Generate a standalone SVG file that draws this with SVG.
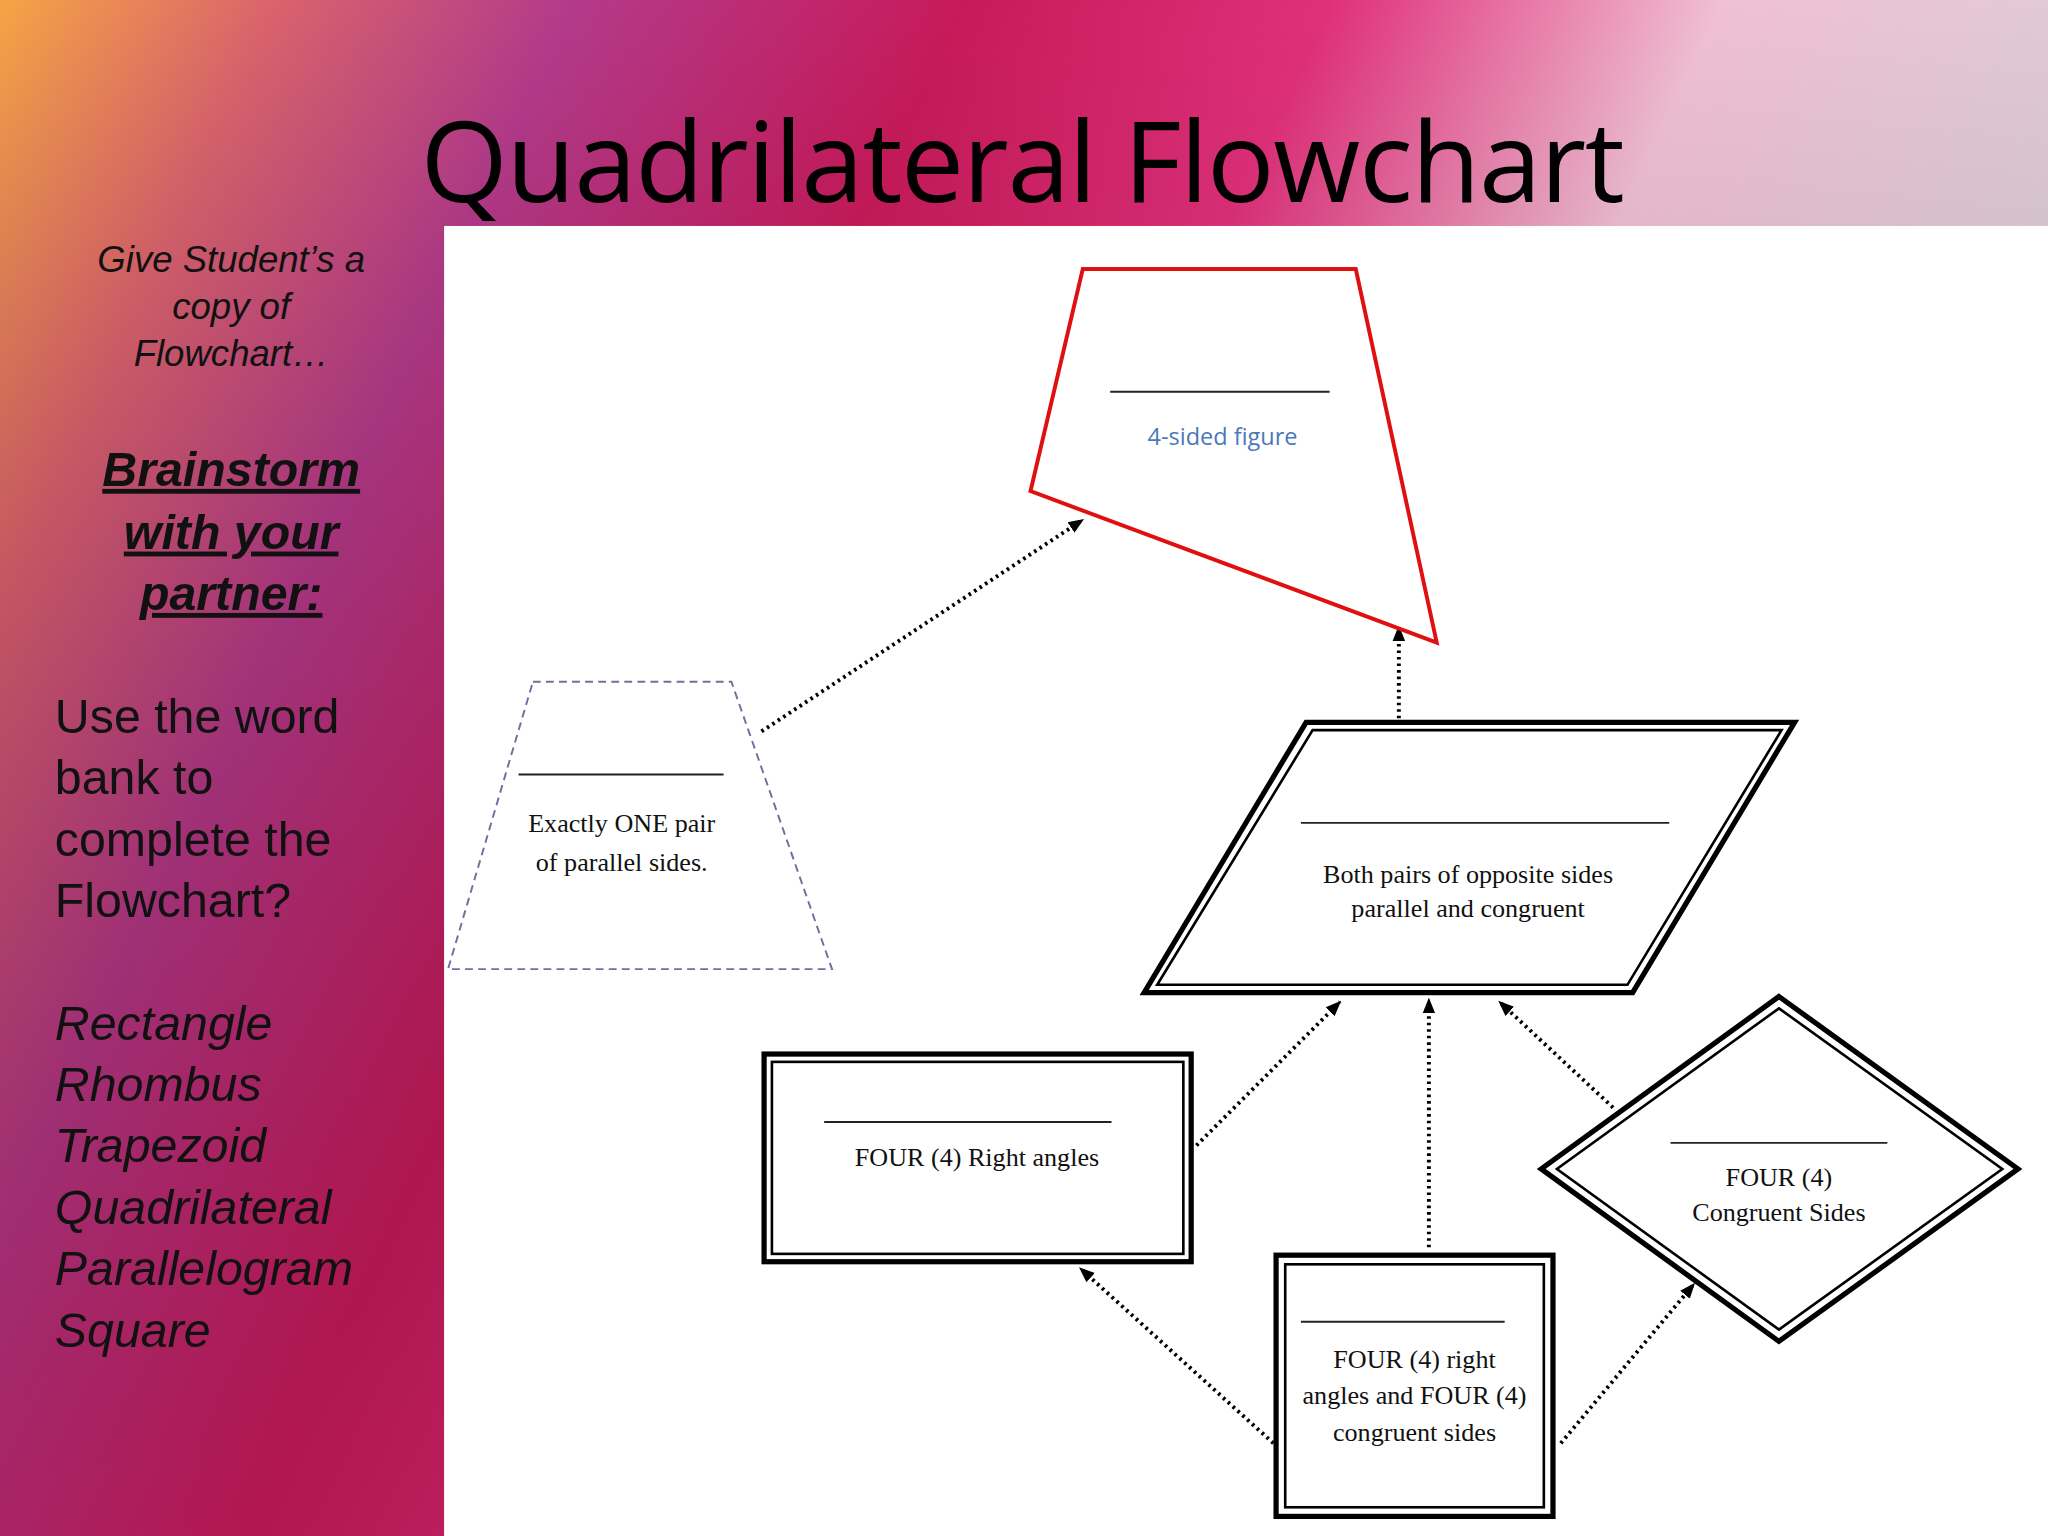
<svg xmlns="http://www.w3.org/2000/svg" width="2048" height="1536" viewBox="0 0 2048 1536">
<defs>
<linearGradient id="bg" x1="0" y1="0" x2="1" y2="0.35">
<stop offset="0" stop-color="#f6a445"/>
<stop offset="0.12" stop-color="#d9636c"/>
<stop offset="0.25" stop-color="#b33a8a"/>
<stop offset="0.42" stop-color="#c81a5a"/>
<stop offset="0.58" stop-color="#e0307a"/>
<stop offset="0.75" stop-color="#f0c0d4"/>
<stop offset="1" stop-color="#d8d0d6"/>
</linearGradient>
<linearGradient id="bg2" x1="0" y1="0" x2="0" y2="1">
<stop offset="0" stop-color="#000" stop-opacity="0"/>
<stop offset="1" stop-color="#8a1040" stop-opacity="0.35"/>
</linearGradient>
<marker id="ah" viewBox="0 0 10 10" refX="9" refY="5" markerWidth="4" markerHeight="4" orient="auto"><path d="M0,1 L10,5 L0,9 z" fill="#000"/></marker>
<style>
.s{font-family:"Liberation Serif",serif;font-size:20px;fill:#111;text-anchor:middle}
.l{font-family:"Liberation Sans",Arial,sans-serif;fill:#111}
.thick{fill:#fff;stroke:#000;stroke-width:4}
.thin{fill:none;stroke:#000;stroke-width:2}
.ul{stroke:#222;stroke-width:1.5}
.con{fill:none;stroke:#000;stroke-width:3;stroke-dasharray:2 3;marker-end:url(#ah)}
</style>
</defs>
<rect width="2048" height="1536" fill="url(#bg)"/>
<rect width="2048" height="1536" fill="url(#bg2)"/>
<g transform="scale(1.30612)">
<rect x="340" y="173" width="1228" height="1003" fill="#fff"/>
<text x="322" y="155" font-family="Open Sans, sans-serif" font-size="86" fill="#000" textLength="922">Quadrilateral Flowchart</text>
<g class="l" font-style="italic" font-size="28" text-anchor="middle">
<text x="177" y="208">Give Student’s a</text><text x="177" y="244">copy of</text><text x="177" y="280">Flowchart…</text>
</g>
<g class="l" font-style="italic" font-weight="bold" font-size="37" text-anchor="middle" text-decoration="underline">
<text x="177" y="372">Brainstorm</text><text x="177" y="420">with your</text><text x="177" y="467">partner:</text>
</g>
<g class="l" font-size="37">
<text x="42" y="561">Use the word</text><text x="42" y="608">bank to</text><text x="42" y="655">complete the</text><text x="42" y="702">Flowchart?</text>
</g>
<g class="l" font-size="37" font-style="italic">
<text x="42" y="796">Rectangle</text><text x="42" y="843">Rhombus</text><text x="42" y="890">Trapezoid</text><text x="42" y="937">Quadrilateral</text><text x="42" y="984">Parallelogram</text><text x="42" y="1031">Square</text>
</g>
<g id="connectors">
<line class="con" x1="583" y1="560" x2="829" y2="398"/>
<line class="con" x1="1071" y1="550" x2="1071" y2="480"/>
<line class="con" x1="916" y1="877" x2="1026" y2="767"/>
<line class="con" x1="1094" y1="955" x2="1094" y2="765"/>
<line class="con" x1="1235" y1="848" x2="1148" y2="767"/>
<line class="con" x1="975" y1="1105" x2="827" y2="971"/>
<line class="con" x1="1195" y1="1105" x2="1297" y2="983"/>
</g>
<g id="quad">
<polygon points="829,206 1038,206 1100,492 789,376" fill="#fff" stroke="#e01010" stroke-width="3"/>
<line class="ul" x1="850" y1="300" x2="1018" y2="300"/>
<text x="936" y="341" font-family="Open Sans, sans-serif" font-size="18" fill="#4a78b8" text-anchor="middle">4-sided figure</text>
</g>
<g id="trap">
<polygon points="408,522 560,522 637,742 343,742" fill="#fff" stroke="#7070a0" stroke-width="1.5" stroke-dasharray="6 4"/>
<line class="ul" x1="397" y1="593" x2="554" y2="593"/>
<text class="s" x="476" y="637">Exactly ONE pair</text>
<text class="s" x="476" y="667">of parallel sides.</text>
</g>
<g id="para">
<polygon class="thick" points="1000,553 1374,553 1250,760 876,760"/>
<polygon class="thin" points="1005,559 1364,559 1246,754 886,754"/>
<line class="ul" x1="996" y1="630" x2="1278" y2="630"/>
<text class="s" x="1124" y="676">Both pairs of opposite sides</text>
<text class="s" x="1124" y="702">parallel and congruent</text>
</g>
<g id="rect">
<rect class="thick" x="585" y="807" width="327" height="159"/>
<rect class="thin" x="591" y="813" width="315" height="147"/>
<line class="ul" x1="631" y1="859" x2="851" y2="859"/>
<text class="s" x="748" y="893">FOUR (4) Right angles</text>
</g>
<g id="rhombus">
<polygon class="thick" points="1362,763 1545,895 1362,1027 1180,895"/>
<polygon class="thin" points="1362,772 1533,895 1362,1018 1192,895"/>
<line class="ul" x1="1279" y1="875" x2="1445" y2="875"/>
<text class="s" x="1362" y="908">FOUR (4)</text>
<text class="s" x="1362" y="935">Congruent Sides</text>
</g>
<g id="square">
<rect class="thick" x="977" y="961" width="212" height="200"/>
<rect class="thin" x="984" y="968" width="198" height="186"/>
<line class="ul" x1="996" y1="1012" x2="1152" y2="1012"/>
<text class="s" x="1083" y="1047">FOUR (4) right</text>
<text class="s" x="1083" y="1075">angles and FOUR (4)</text>
<text class="s" x="1083" y="1103">congruent sides</text>
</g>
</g>
</svg>
